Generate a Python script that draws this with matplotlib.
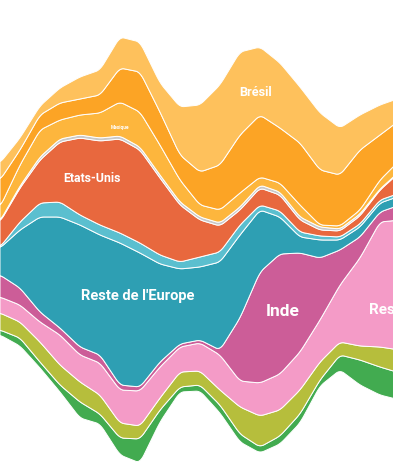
import numpy as np
import matplotlib.pyplot as plt

# sample positions along the stream (left -> right)
t = np.arange(0, 401, 20)

# bottom edge of the stream
baseline = [140, 129, 107, 83, 57, 51, 20, 12, 53, 83, 84, 62, 33, 22, 31, 52, 89, 105, 90, 80, 75]

# layer thicknesses, bottom -> top
vert      = [5, 8, 6, 7, 16, 10, 17, 24, 12, 5, 6, 8, 8, 6, 8, 9, 6, 15, 25, 28, 27]
olive     = [17, 16, 20, 20, 20, 19, 15, 13, 12, 15, 14, 15, 27, 31, 26, 24, 18, 13, 14, 20, 23]
reste_monde = [16, 17, 20, 30, 27, 32, 33, 35, 31, 25, 28, 35, 26, 33, 36, 38, 42, 57, 88, 125, 130]
inde      = [22, 17, 10, 7, 8, 8, 5, 4, 5, 3, 3, 5, 63, 111, 120, 99, 62, 35, 21, 10, 15]
europe    = [27, 58, 95, 111, 122, 120, 142, 134, 98, 75, 73, 88, 83, 62, 37, 16, 18, 10, 10, 9, 9]
bleu_clair = [1, 8, 14, 15, 10, 10, 10, 10, 9, 7, 10, 10, 10, 5, 6, 5, 4, 3, 3, 3, 3]
etats_unis = [25, 34, 43, 60, 77, 84, 94, 93, 77, 57, 37, 26, 15, 17, 16, 12, 6, 6, 8, 10, 21]
gris      = [1, 2, 3, 3, 3, 3, 3, 3, 3, 3, 3, 3, 3, 3, 3, 3, 3, 2, 2, 1, 1]
mexique   = [14, 21, 27, 19, 20, 25, 34, 35, 30, 22, 12, 13, 14, 8, 9, 12, 2, 3, 4, 9, 11]
orange    = [27, 15, 15, 17, 16, 18, 34, 40, 33, 25, 33, 45, 58, 62, 55, 62, 55, 51, 60, 45, 40]
bresil    = [17, 12, 9, 15, 22, 25, 31, 30, 29, 48, 67, 80, 83, 68, 65, 56, 57, 47, 35, 30, 22]

couches = [vert, olive, reste_monde, inde, europe, bleu_clair, etats_unis, gris, mexique, orange, bresil]
couleurs = ['#42ab50', '#b6be3c', '#f49bc7', '#cc5d98', '#2e9fb3', '#5bbfcf',
            '#e8683e', '#c9c9c9', '#fdb63d', '#fca425', '#fec15c']

# smooth the stream a little for drawing
xf = np.linspace(0, 400, 801)
def lisse(v, w=17):
    y = np.interp(xf, t, v)
    k = np.ones(w) / w
    yp = np.pad(y, w // 2, mode='edge')
    return np.convolve(yp, k, mode='valid')

fig = plt.figure(figsize=(3.93, 4.75), dpi=100)
ax = fig.add_axes([0, 0, 1, 1])
bas = lisse(baseline)
for c, col in zip(couches, couleurs):
    haut = bas + lisse(c)
    ax.fill_between(xf, bas, haut, facecolor=col, edgecolor='white', linewidth=0.7)
    bas = haut

ax.set_xlim(0, 393)
ax.set_ylim(0, 475)
ax.axis('off')

txt = dict(color='white', family=['Roboto', 'DejaVu Sans'], fontweight='bold',
           ha='center', va='center')
ax.text(256, 475 - 93, 'Brésil', fontsize=9.2, **txt)
ax.text(120, 475 - 127, 'Mexique', fontsize=3.5, **txt)
ax.text(92, 475 - 178, 'Etats-Unis', fontsize=8.8, **txt)
ax.text(138, 475 - 296, "Reste de l'Europe", fontsize=10.5, **txt)
ax.text(283, 475 - 312, 'Inde', fontsize=12.5, **txt)
t2 = dict(txt)
t2['ha'] = 'left'
ax.text(369, 475 - 310, 'Reste du monde', fontsize=11, **t2)

fig.savefig('out.png', dpi=100)
